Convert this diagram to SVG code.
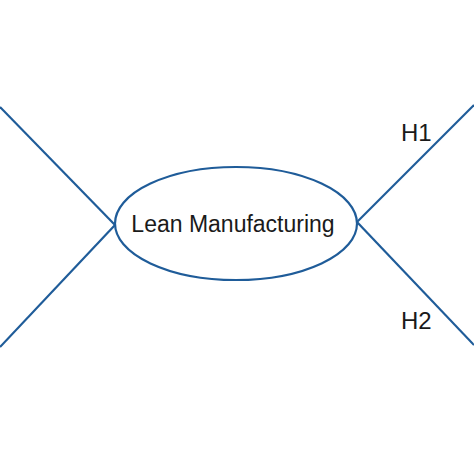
<svg xmlns="http://www.w3.org/2000/svg" width="474" height="474" viewBox="0 0 474 474">
<style>
.ln{stroke:#1f5c99;stroke-width:2.2;fill:none}
.t{font-family:"Liberation Sans",Arial,sans-serif;fill:#1a1a1a}
</style>
<rect width="474" height="474" fill="#ffffff"/>
<g id="connectors">
<line class="ln" x1="0" y1="107" x2="115" y2="225"/>
<line class="ln" x1="0" y1="347" x2="115" y2="225"/>
<line class="ln" x1="357" y1="222" x2="474" y2="105"/>
<line class="ln" x1="357" y1="222" x2="474" y2="345"/>
</g>
<g id="node-lean">
<ellipse class="ln" cx="236" cy="223.5" rx="121" ry="56.5" fill="#ffffff"/>
<text class="t" x="233" y="232" font-size="23" text-anchor="middle">Lean Manufacturing</text>
</g>
<g id="label-h1"><text class="t" x="401" y="141" font-size="24">H1</text></g>
<g id="label-h2"><text class="t" x="401" y="329" font-size="24">H2</text></g>
</svg>
